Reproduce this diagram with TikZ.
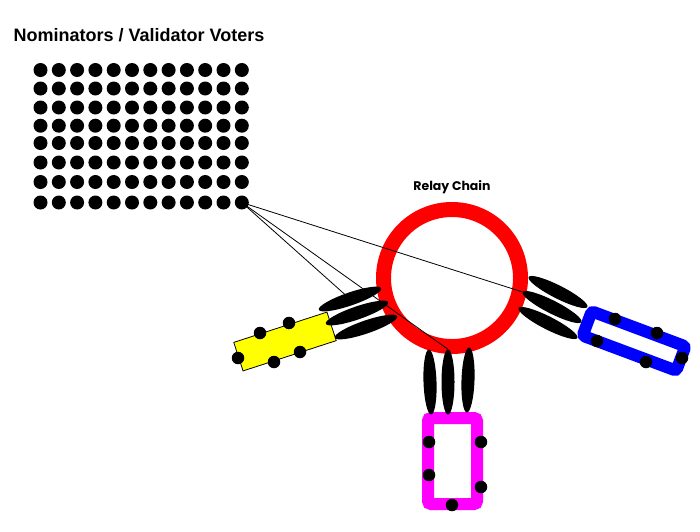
\documentclass[tikz,border=0pt]{standalone}
\usepackage{fontspec}
\setmainfont{Liberation Sans}
\newfontfamily\poppins{Poppins}
\usetikzlibrary{shapes.geometric,backgrounds}
\definecolor{pred}{RGB}{255,0,0}
\definecolor{pblue}{RGB}{0,0,255}
\definecolor{pmag}{RGB}{255,0,255}
\definecolor{pyel}{RGB}{255,255,0}
\begin{document}
\begin{tikzpicture}[x=1pt,y=-1pt,
  dot/.style={circle,fill=black,inner sep=0pt,minimum size=14pt},
  sdot/.style={circle,fill=black,inner sep=0pt,minimum size=12.5pt},
  leaf/.style={ellipse,fill=black,inner sep=0pt,minimum width=66pt,minimum height=13pt},
  link/.style={draw=black,line width=0.8pt},
  thickbox/.style={line width=12pt,rounded corners=3pt,inner sep=0pt}]
\useasboundingbox (0,0) rectangle (700,531);

% title
\node (title) at (139,35) {\bfseries\fontsize{18}{21}\selectfont Nominators / Validator Voters};

% voters grid
\foreach \r [count=\j] in {70,88.5,107.5,125.7,143,162.5,182,202.5}
  \foreach \i in {0,...,11}
    \node[dot] (d\i-\j) at ({40.5+\i*18.3},\r) {};

% relay chain label
\node (rc) at (452,187) {\poppins\bfseries\fontsize{12.5}{14}\selectfont Relay Chain};

% parachain boxes
\node[draw=black,fill=pyel,line width=0.8pt,minimum width=98pt,minimum height=30pt,inner sep=0pt,rotate=18] (ybox) at (285,341.5) {};
\node[draw=pblue,thickbox,minimum width=100pt,minimum height=26pt,rotate=-20.5] (bbox) at (634,341) {};
\node[draw=pmag,thickbox,minimum width=49pt,minimum height=86pt] (mbox) at (452.5,461) {};

% collators on boxes
\node[sdot] (y1) at (260,333) {};
\node[sdot] (y2) at (289,323) {};
\node[sdot] (y3) at (238,358) {};
\node[sdot] (y4) at (274,362) {};
\node[sdot] (y5) at (300,352) {};
\node[sdot] (b1) at (615,319) {};
\node[sdot] (b2) at (657,333) {};
\node[sdot] (b3) at (597,341) {};
\node[sdot] (b4) at (646,362) {};
\node[sdot] (b5) at (682,358) {};
\node[sdot] (m1) at (429,442) {};
\node[sdot] (m2) at (429,475) {};
\node[sdot] (m3) at (481,442) {};
\node[sdot] (m4) at (481,487) {};
\node[sdot] (m5) at (452,505) {};

% validators (ellipses)
\node[leaf,rotate=19] (yt) at (350,299) {};
\node[leaf,rotate=19] (ym) at (357,313) {};
\node[leaf,rotate=19] (yb) at (366,327) {};
\node[leaf,rotate=-27] (bt) at (558,292) {};
\node[leaf,rotate=-27] (bm) at (552,307) {};
\node[leaf,rotate=-27] (bb) at (548,323) {};
\node[leaf,minimum width=65pt,rotate=92] (ml) at (430,382) {};
\node[leaf,minimum width=65pt,rotate=90] (mm) at (448,382) {};
\node[leaf,minimum width=65pt,rotate=88] (mr) at (468,380) {};

\begin{scope}[on background layer]
  \node[circle,draw=pred,line width=15pt,minimum size=137pt,inner sep=0pt] (ring) at (452,278) {};
  \draw[link] (d11-8.center) -- (bm.west);
  \draw[link] (d11-8.center) -- (yt.center);
  \draw[link] (d11-8.center) -- (mm.east);
\end{scope}
\end{tikzpicture}
\end{document}
